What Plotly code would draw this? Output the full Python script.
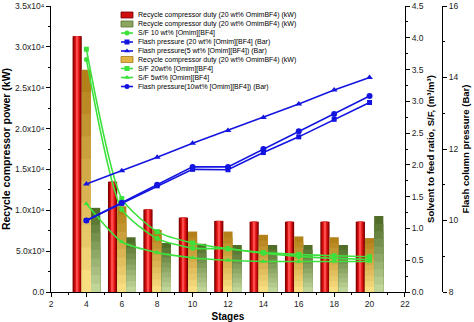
import plotly.graph_objects as go

# ---------------- data ----------------
stages = [4, 6, 8, 10, 12, 14, 16, 18, 20]

duty_red = [31300, 13500, 10100, 9100, 8700, 8600, 8600, 8600, 8600]
duty_gold = [27200, 10500, 7600, 7400, 7400, 7000, 6800, 6700, 6600]
duty_green = [10300, 6700, 6000, 5900, 5750, 5750, 5750, 5750, 9300]

sf_10 = [3.66, 1.30, 0.84, 0.69, 0.68, 0.61, 0.56, 0.53, 0.51]
sf_20 = [3.82, 1.47, 0.95, 0.77, 0.68, 0.62, 0.59, 0.57, 0.555]
sf_5 = [1.39, 0.79, 0.62, 0.54, 0.50, 0.48, 0.48, 0.48, 0.48]

fp_20 = [10.0, 10.48, 10.97, 11.43, 11.42, 11.90, 12.34, 12.83, 13.30]
fp_5 = [11.02, 11.39, 11.77, 12.16, 12.52, 12.88, 13.26, 13.65, 14.0]
fp_10 = [10.0, 10.5, 11.0, 11.5, 11.5, 12.0, 12.5, 12.98, 13.48]

y_tickvals = [0, 5000, 10000, 15000, 20000, 25000, 30000, 35000]
y_ticktext = ["0.0", "5.0x10³", "1.0x10⁴", "1.5x10⁴", "2.0x10⁴", "2.5x10⁴", "3.0x10⁴", "3.5x10⁴"]

name_duty = "Recycle compressor duty (20 wt% OmimBF4) (kW)"
legend_texts = [
    name_duty,
    name_duty,
    "S/F 10 wt% [Omim][BF4]",
    "Flash pressure (20 wt% [Omim][BF4] (Bar)",
    "Flash pressure(5 wt% [Omim][BF4]) (Bar)",
    name_duty,
    "S/F 20wt% [Omim][BF4]",
    "S/F 5wt% [Omim][BF4]",
    "Flash pressure(10wt% [Omim][BF4]) (Bar)",
]

# ---------------- style ----------------
FONT = "Liberation Sans, Arial, DejaVu Sans, sans-serif"
BLUE = "rgb(20,20,225)"
GREEN = "rgb(60,225,60)"
BW = 0.52  # bar width in x units

fig = go.Figure()


def lerp(c0, c1, t):
    return "rgb(%d,%d,%d)" % tuple(round(a + (b - a) * t) for a, b in zip(c0, c1))


# red bars: horizontal "cylinder" shading (same heights, narrower brighter layers)
red_layers = [(1.0, (125, 0, 0)), (0.78, (175, 5, 5)), (0.55, (215, 20, 20)),
              (0.32, (240, 40, 40)), (0.14, (255, 75, 75))]
for frac, col in red_layers:
    w = BW * frac
    fig.add_trace(go.Bar(x=stages, y=duty_red, width=w, offset=-1.5 * BW + (BW - w) / 2,
                         marker=dict(color="rgb(%d,%d,%d)" % col, line=dict(width=0)),
                         name=name_duty, showlegend=False, hoverinfo="skip"))


# gold / green bars: vertical shading, dark top, light bottom
def vertical_bars(values, offset, top, bottom, n=10):
    for k in range(n, 0, -1):
        f = k / n
        fig.add_trace(go.Bar(x=stages, y=[v * f for v in values], width=BW, offset=offset,
                             marker=dict(color=lerp(bottom, top, f), line=dict(width=0)),
                             name=name_duty, showlegend=False, hoverinfo="skip"))


vertical_bars(duty_gold, -0.5 * BW, (180, 128, 25), (255, 232, 140))
vertical_bars(duty_green, 0.5 * BW, (80, 110, 40), (205, 225, 165))

# S/F lines (right axis 1)
for ys, sym, nm in [(sf_10, "circle", legend_texts[2]), (sf_20, "square", legend_texts[6]),
                    (sf_5, "triangle-up", legend_texts[7])]:
    fig.add_trace(go.Scatter(x=stages, y=ys, yaxis="y2", mode="lines+markers",
                             line=dict(color=GREEN, width=1.6, shape="spline", smoothing=0.6),
                             marker=dict(symbol=sym, size=5, color=GREEN),
                             name=nm, showlegend=False))

# Flash pressure lines (right axis 2)
for ys, sym, nm, sz in [(fp_20, "square", legend_texts[3], 5), (fp_5, "triangle-up", legend_texts[4], 6),
                        (fp_10, "circle", legend_texts[8], 6)]:
    fig.add_trace(go.Scatter(x=stages, y=ys, yaxis="y3", mode="lines+markers",
                             line=dict(color=BLUE, width=1.6),
                             marker=dict(symbol=sym, size=sz, color=BLUE),
                             name=nm, showlegend=False))

# ---------------- custom compact legend (pixel-like overlay axes) ----------------
row_y = [15, 24, 33, 42, 51, 59.5, 68.5, 77.5, 86.5]
sw_x0, sw_x1, txt_x = 121, 133, 136
kinds = [("bar", "red"), ("bar", "green"), ("line", GREEN, "circle"), ("line", BLUE, "square"),
         ("line", BLUE, "triangle-up"), ("bar", "gold"), ("line", GREEN, "square"),
         ("line", GREEN, "triangle-up"), ("line", BLUE, "circle")]
shapes = []
annotations = []
bar_swatch = {"red": ("rgb(205,15,15)", "rgb(120,0,0)"),
              "green": ("rgb(140,165,95)", "rgb(90,115,50)"),
              "gold": ("rgb(225,180,70)", "rgb(170,120,25)")}
for ry, kind, txt in zip(row_y, kinds, legend_texts):
    if kind[0] == "bar":
        fill, edge = bar_swatch[kind[1]]
        shapes.append(dict(type="rect", xref="x4", yref="y4", x0=sw_x0, x1=sw_x1,
                           y0=ry - 3, y1=ry + 3, fillcolor=fill, line=dict(color=edge, width=0.8)))
    else:
        fig.add_trace(go.Scatter(x=[sw_x0, (sw_x0 + sw_x1) / 2, sw_x1], y=[ry, ry, ry],
                                 xaxis="x4", yaxis="y4", mode="lines",
                                 line=dict(color=kind[1], width=1.6),
                                 showlegend=False, hoverinfo="skip"))
        fig.add_trace(go.Scatter(x=[(sw_x0 + sw_x1) / 2], y=[ry], xaxis="x4", yaxis="y4",
                                 mode="markers", marker=dict(symbol=kind[2], size=5, color=kind[1]),
                                 showlegend=False, hoverinfo="skip"))
    annotations.append(dict(x=txt_x, y=ry, xref="x4", yref="y4", text=txt, showarrow=False,
                            xanchor="left", yanchor="middle",
                            font=dict(family=FONT, size=7, color="black")))

axis_common = dict(showline=True, linecolor="black", linewidth=1, ticks="outside",
                   ticklen=4, tickcolor="black", showgrid=False, zeroline=False,
                   automargin=False, tickfont=dict(family=FONT, size=8.5, color="#222"))

fig.update_layout(
    width=474, height=322,
    margin=dict(l=51, r=10, t=6, b=30),
    paper_bgcolor="white", plot_bgcolor="white",
    barmode="overlay",
    showlegend=False,
    font=dict(family=FONT, color="black"),
    xaxis=dict(**axis_common, domain=[0, 0.857], range=[2, 22], tickvals=list(range(2, 23, 2)),
               minor=dict(ticks="outside", dtick=1, ticklen=2, tickcolor="black"),
               title=dict(text="<b>Stages</b>", font=dict(family=FONT, size=10), standoff=4)),
    yaxis=dict(**axis_common, range=[0, 35000], tickvals=y_tickvals, ticktext=y_ticktext,
               minor=dict(ticks="outside", dtick=2500, ticklen=2, tickcolor="black"),
               title=dict(text="<b>Recycle compressor power (kW)</b>",
                          font=dict(family=FONT, size=10.5), standoff=6)),
    yaxis2=dict(**axis_common, overlaying="y", side="right", anchor="x", range=[0, 4.5],
                tickvals=[0, 0.5, 1, 1.5, 2, 2.5, 3, 3.5, 4, 4.5], tickformat=".1f",
                minor=dict(ticks="outside", dtick=0.25, ticklen=2, tickcolor="black"),
                title=dict(text="<b>Solvent to feed ratio, S/F, (m³/m³)</b>",
                           font=dict(family=FONT, size=9.5), standoff=4)),
    yaxis3=dict(**axis_common, overlaying="y", side="right", anchor="free", position=0.9467,
                range=[8, 16], tickvals=[8, 10, 12, 14, 16],
                minor=dict(ticks="outside", dtick=1, ticklen=2, tickcolor="black"),
                title=dict(text="<b>Flash column pressure (Bar)</b>",
                           font=dict(family=FONT, size=9.5), standoff=4)),
    xaxis4=dict(overlaying="x", anchor="y4", range=[51, 405], visible=False, fixedrange=True),
    yaxis4=dict(overlaying="y", anchor="x4", range=[292, 6], visible=False, fixedrange=True),
    shapes=shapes,
    annotations=annotations,
)

fig.write_html("out.html")
